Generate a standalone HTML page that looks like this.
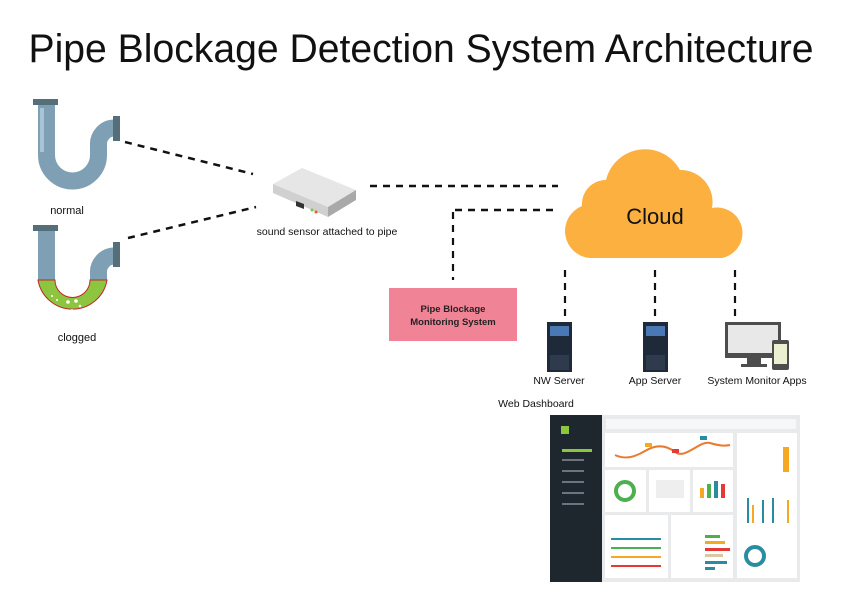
<!DOCTYPE html>
<html><head><meta charset="utf-8"><style>
html,body{margin:0;padding:0;background:#fff}
svg{display:block}
text{font-family:"Liberation Sans",sans-serif}
</style></head><body>
<svg width="842" height="596" viewBox="0 0 842 596" xmlns="http://www.w3.org/2000/svg">
<rect width="842" height="596" fill="#fff"/>
<text x="421" y="62" font-size="40" text-anchor="middle" textLength="785" lengthAdjust="spacingAndGlyphs" fill="#111">Pipe Blockage Detection System Architecture</text>

<!-- normal pipe -->
<rect x="33" y="99" width="25" height="6" fill="#546e7a"/>
<path d="M46.5 105 V155 A26 26 0 0 0 98.5 155 V145 A16 16 0 0 1 114 128" fill="none" stroke="#7fa0b4" stroke-width="17"/>
<path d="M42 108 V152" stroke="#a9c4d4" stroke-width="4"/>
<rect x="113" y="116" width="7" height="25" fill="#546e7a"/>
<text x="67" y="214" font-size="11" text-anchor="middle" fill="#111">normal</text>

<!-- clogged pipe -->
<rect x="33" y="225" width="25" height="6" fill="#546e7a"/>
<path d="M46.5 231 V283 M98.5 283 V273 A16 16 0 0 1 114 256" fill="none" stroke="#7fa0b4" stroke-width="17"/>
<path d="M38 280 H55 A17 17 0 0 0 90 280 H107 A35 35 0 0 1 38 280 Z" fill="#8cc63f" stroke="#c1272d" stroke-width="1"/>
<g fill="#fff"><circle cx="68" cy="302" r="1.8"/><circle cx="76" cy="301" r="1.8"/><circle cx="52" cy="296" r="1"/><circle cx="80" cy="306" r="1.3"/><circle cx="72" cy="310" r="1"/><circle cx="57" cy="300" r="1"/></g>
<rect x="113" y="242" width="7" height="25" fill="#546e7a"/>
<text x="77" y="341" font-size="11" text-anchor="middle" fill="#111">clogged</text>

<g stroke="#111" stroke-width="2.5" stroke-dasharray="7,6" fill="none">
<path d="M125 142 L253 174"/>
<path d="M128 238 L256 207"/>
<path d="M370 186 H558"/>
<path d="M455 210 H558"/>
<path d="M453 212 V280" stroke-width="2.2"/>
<path d="M565 270 V318 M655 270 V318 M735 270 V318" stroke-width="2.2"/>
</g>

<!-- sensor -->
<polygon points="273,184 302,168 356,190 328,207" fill="#e6e6e6"/>
<polygon points="273,184 328,207 328,217 273,193" fill="#d0d0d0"/>
<polygon points="328,207 356,190 356,200 328,217" fill="#a9a9a9"/>
<polygon points="296,201 304,204 304,209 296,206" fill="#333"/>
<circle cx="312" cy="210" r="1.5" fill="#7ac943"/><circle cx="316" cy="212" r="1.5" fill="#f15a24"/>
<text x="327" y="235" font-size="10.5" text-anchor="middle" fill="#111">sound sensor attached to pipe</text>

<!-- cloud -->
<path d="M590 258 A27 27 0 0 1 582 206 A24 24 0 0 1 606 180 A40 40 0 0 1 680 170 A32 32 0 0 1 712 208 A25 25 0 0 1 722 258 Z" fill="#fbb040"/>
<text x="655" y="224" font-size="22" text-anchor="middle" fill="#111">Cloud</text>

<rect x="389" y="288" width="128" height="53" fill="#f08496"/>
<text x="453" y="312" font-size="9.5" font-weight="bold" text-anchor="middle" fill="#222">Pipe Blockage</text>
<text x="453" y="325" font-size="9.5" font-weight="bold" text-anchor="middle" fill="#222">Monitoring System</text>

<g>
<rect x="547" y="322" width="25" height="50" fill="#1e2a3a"/>
<rect x="550" y="326" width="19" height="10" fill="#4a78b5"/>
<rect x="550" y="355" width="19" height="15" fill="#2d3b4d"/>
<rect x="643" y="322" width="25" height="50" fill="#1e2a3a"/>
<rect x="646" y="326" width="19" height="10" fill="#4a78b5"/>
<rect x="646" y="355" width="19" height="15" fill="#2d3b4d"/>
</g>
<rect x="725" y="322" width="56" height="36" fill="#4d4d4d"/>
<rect x="728" y="325" width="50" height="28" fill="#e8e8e8"/>
<rect x="747" y="358" width="14" height="6" fill="#4d4d4d"/>
<rect x="741" y="364" width="26" height="3" fill="#4d4d4d"/>
<rect x="772" y="340" width="17" height="30" rx="2" fill="#4d4d4d"/>
<rect x="774" y="344" width="13" height="20" fill="#eaf0d0"/>
<text x="559" y="384" font-size="10.5" text-anchor="middle" fill="#111">NW Server</text>
<text x="655" y="384" font-size="10.5" text-anchor="middle" fill="#111">App Server</text>
<text x="757" y="384" font-size="10.5" text-anchor="middle" fill="#111">System Monitor Apps</text>
<text x="536" y="407" font-size="10.5" text-anchor="middle" fill="#111">Web Dashboard</text>

<!-- dashboard -->
<rect x="550" y="415" width="250" height="167" fill="#e9eaec"/>
<rect x="550" y="415" width="52" height="167" fill="#1f272e"/>
<rect x="561" y="426" width="8" height="8" fill="#8cc63f"/>
<rect x="562" y="449" width="30" height="3" fill="#8cc63f"/>
<g fill="#6b7480"><rect x="562" y="459" width="22" height="2"/><rect x="562" y="470" width="22" height="2"/><rect x="562" y="481" width="22" height="2"/><rect x="562" y="492" width="22" height="2"/><rect x="562" y="503" width="22" height="2"/></g>
<rect x="606" y="419" width="190" height="10" fill="#f7f7f7"/>
<rect x="605" y="433" width="128" height="34" fill="#fff"/>
<path d="M615 455 C625 460 635 457 645 451 S665 444 675 452 S700 440 710 443 S725 446 730 445" fill="none" stroke="#e87b2f" stroke-width="2"/>
<rect x="645" y="443" width="7" height="4" fill="#f7a823"/><rect x="672" y="449" width="7" height="4" fill="#e53935"/><rect x="700" y="436" width="7" height="4" fill="#2a8ca0"/>
<rect x="605" y="470" width="41" height="42" fill="#fff"/>
<circle cx="625" cy="491" r="9" fill="none" stroke="#4caf50" stroke-width="4"/>
<rect x="649" y="470" width="41" height="42" fill="#fff"/>
<rect x="656" y="480" width="28" height="18" fill="#eee"/>
<rect x="693" y="470" width="40" height="42" fill="#fff"/>
<rect x="700" y="488" width="4" height="10" fill="#f7a823"/><rect x="707" y="484" width="4" height="14" fill="#4caf50"/><rect x="714" y="481" width="4" height="17" fill="#2a8ca0"/><rect x="721" y="484" width="4" height="14" fill="#e53935"/>
<rect x="605" y="515" width="63" height="63" fill="#fff"/>
<g><rect x="611" y="538" width="50" height="2" fill="#2a8ca0"/><rect x="611" y="547" width="50" height="2" fill="#4caf50"/><rect x="611" y="556" width="50" height="2" fill="#f7a823"/><rect x="611" y="565" width="50" height="2" fill="#e53935"/></g>
<rect x="671" y="515" width="62" height="63" fill="#fff"/>
<g><rect x="705" y="535" width="15" height="3" fill="#4caf50"/><rect x="705" y="541" width="20" height="3" fill="#f7a823"/><rect x="705" y="548" width="25" height="3" fill="#e53935"/><rect x="705" y="554" width="18" height="3" fill="#d9c9a0"/><rect x="705" y="561" width="22" height="3" fill="#2a8ca0"/><rect x="705" y="567" width="10" height="3" fill="#2a8ca0"/></g>
<rect x="737" y="433" width="60" height="145" fill="#fff"/>
<rect x="783" y="447" width="6" height="25" fill="#f7a823"/>
<g><rect x="747" y="498" width="2" height="25" fill="#2a8ca0"/><rect x="762" y="500" width="2" height="23" fill="#2a8ca0"/><rect x="772" y="498" width="2" height="25" fill="#2a8ca0"/><rect x="752" y="505" width="2" height="18" fill="#f7a823"/><rect x="787" y="500" width="2" height="23" fill="#f7a823"/></g>
<circle cx="755" cy="556" r="9" fill="none" stroke="#2a8ca0" stroke-width="4"/>
</svg>
</body></html>
